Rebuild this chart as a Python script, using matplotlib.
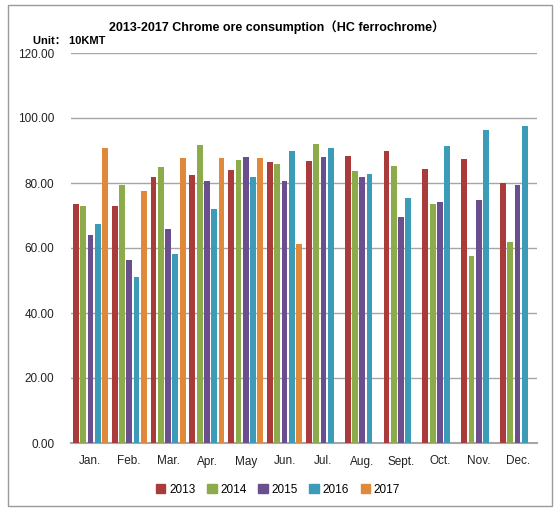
import numpy as np
import matplotlib
matplotlib.use("Agg")
from matplotlib import pyplot as plt
from matplotlib.patches import Rectangle

months = ['Jan.', 'Feb.', 'Mar.', 'Apr.', 'May', 'Jun.', 'Jul.', 'Aug.', 'Sept.', 'Oct.', 'Nov.', 'Dec.']
years = ['2013', '2014', '2015', '2016', '2017']
v2013 = [73.4, 73.0, 81.7, 82.6, 84.0, 86.4, 86.7, 88.4, 90.0, 84.3, 87.3, 80.0]
v2014 = [72.9, 79.5, 84.9, 91.8, 87.2, 85.8, 92.0, 83.8, 85.2, 73.6, 57.6, 61.8]
v2015 = [64.1, 56.2, 66.0, 80.5, 88.1, 80.5, 88.1, 82.0, 69.4, 74.3, 74.9, 79.3]
v2016 = [67.4, 51.1, 58.3, 71.9, 82.0, 90.0, 90.8, 82.9, 75.4, 91.5, 96.2, 97.4]
v2017 = [90.9, 77.5, 87.8, 87.8, 87.8, 61.1]
colors = ['#A93B3B', '#8CAB4B', '#6B4E8D', '#3C9BB6', '#E0893A']

plt.rcParams['font.family'] = ['Liberation Sans', 'Noto Sans CJK SC', 'DejaVu Sans']

fig = plt.figure(figsize=(5.58, 5.12), dpi=100)
W, H = 558, 512
ax = fig.add_axes([71 / W, 1 - 443 / H, (537 - 71) / W, (443 - 53) / H])

# chart border
fig.patches.append(Rectangle((8 / W, 1 - 506 / H), (552 - 8) / W, (506 - 5) / H,
                             transform=fig.transFigure, fill=False,
                             edgecolor='#9A9A9A', linewidth=1.0))

series = [v2013, v2014, v2015, v2016, v2017]
step = 0.188
bw = 0.15
for i, (vals, c, lab) in enumerate(zip(series, colors, years)):
    x = np.arange(len(vals)) + (i - 2) * step
    ax.bar(x, vals, width=bw, color=c, label=lab, zorder=3)

ax.set_xlim(-0.5, 11.5)
ax.set_ylim(0, 120)
ax.set_yticks(np.arange(0, 121, 20))
ax.set_yticklabels(['%.2f' % t for t in np.arange(0, 121, 20)], fontsize=8.5, color='#222222')
ax.set_xticks(np.arange(12))
ax.set_xticklabels(months, fontsize=8.5, color='#222222')
ax.tick_params(axis='both', length=0)
ax.tick_params(axis='y', pad=12)
ax.tick_params(axis='x', pad=9)
ax.grid(axis='y', color='#A6A6A6', linewidth=1.0, zorder=0)
for s in ['left', 'right', 'top']:
    ax.spines[s].set_visible(False)
ax.spines['bottom'].set_color('#A6A6A6')
ax.spines['bottom'].set_linewidth(1.5)

fig.text(277 / W, 1 - 27 / H, '2013-2017 Chrome ore consumption\uff08HC ferrochrome\uff09',
         ha='center', va='center', fontsize=9, fontweight='bold')
fig.text(33 / W, 1 - 41 / H, 'Unit\uff1a 10KMT', ha='left', va='center',
         fontsize=8, fontweight='bold')

handles = [Rectangle((0, 0), 1, 1, color=c) for c in colors]
fig.legend(handles, years, loc='center', bbox_to_anchor=(278 / W, 1 - 490 / H),
           ncol=5, frameon=False, fontsize=8.5, handlelength=0.8, handleheight=0.8,
           handletextpad=0.3, columnspacing=1.0)

fig.savefig('out.png', dpi=100)
